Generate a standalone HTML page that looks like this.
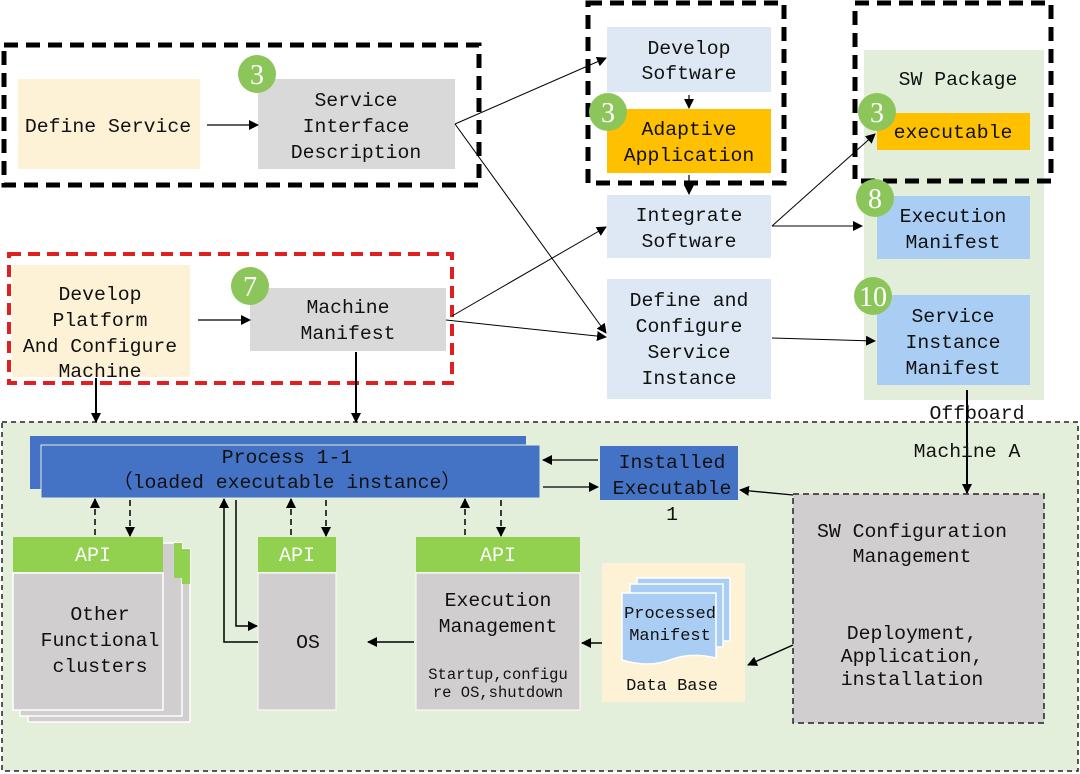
<!DOCTYPE html>
<html><head><meta charset="utf-8"><style>
html,body{margin:0;padding:0;background:#fff}
svg{display:block}
text{font-family:"Liberation Mono","Noto Sans CJK SC",monospace;font-size:19.8px;fill:#111;text-anchor:middle}
.n{font-family:"Liberation Serif",serif;font-size:28px;fill:#fff}
.w{fill:#fff;font-size:20px}
.s{font-size:15.5px}
</style></head><body>
<svg width="1080" height="774" viewBox="0 0 1080 774" xmlns="http://www.w3.org/2000/svg">
<defs>
<marker id="a" markerWidth="10" markerHeight="10" refX="9" refY="5" orient="auto" markerUnits="userSpaceOnUse"><path d="M0,0 L10,5 L0,10 z" fill="#000"/></marker>
</defs>

<rect x="2" y="422" width="1076" height="349" fill="#e3eedb" stroke="#222" stroke-width="1.5" stroke-dasharray="5,4"/>
<rect x="864" y="50" width="180" height="350" fill="#e2eeda"/>

<rect x="18" y="79" width="182" height="90" fill="#fdf1d6"/>
<text x="108" y="132">Define Service</text>
<rect x="258" y="79" width="197" height="90" fill="#d9d9d9"/>
<text x="356" y="106">Service</text><text x="356" y="132">Interface</text><text x="356" y="158">Description</text>
<line x1="207" y1="125" x2="258" y2="125" stroke="#000" stroke-width="1.2" marker-end="url(#a)"/>
<rect x="4" y="45" width="475" height="140" fill="none" stroke="#000" stroke-width="5" stroke-dasharray="14,8"/>
<circle cx="257" cy="74" r="19" fill="#8cc65a"/><text class="n" x="257" y="84">3</text>

<rect x="12" y="265" width="178" height="112" fill="#fdf1d6"/>
<text x="100" y="300">Develop</text><text x="100" y="326">Platform</text><text x="100" y="352">And Configure</text><text x="100" y="377">Machine</text>
<rect x="250" y="288" width="196" height="63" fill="#d9d9d9"/>
<text x="348" y="313">Machine</text><text x="348" y="339">Manifest</text>
<line x1="198" y1="320" x2="250" y2="320" stroke="#000" stroke-width="1.2" marker-end="url(#a)"/>
<rect x="9" y="254" width="443" height="129" fill="none" stroke="#e02020" stroke-width="4" stroke-dasharray="12,7"/>
<circle cx="250" cy="286" r="19" fill="#8cc65a"/><text class="n" x="250" y="296">7</text>

<rect x="607" y="27" width="164" height="65" fill="#dde8f4"/>
<text x="689" y="54">Develop</text><text x="689" y="79">Software</text>
<rect x="607" y="109" width="164" height="64" fill="#ffc000"/>
<text x="689" y="135">Adaptive</text><text x="689" y="161">Application</text>
<line x1="689" y1="95" x2="689" y2="108" stroke="#000" stroke-width="1.2" marker-end="url(#a)"/>
<rect x="588" y="3" width="196" height="180" fill="none" stroke="#000" stroke-width="5" stroke-dasharray="14,8"/>
<circle cx="608" cy="112" r="19" fill="#8cc65a"/><text class="n" x="608" y="122">3</text>
<line x1="689" y1="175" x2="689" y2="194" stroke="#000" stroke-width="1.2" marker-end="url(#a)"/>
<rect x="607" y="195" width="164" height="63" fill="#dde8f4"/>
<text x="689" y="221">Integrate</text><text x="689" y="247">Software</text>
<rect x="607" y="279" width="164" height="120" fill="#dde8f4"/>
<text x="689" y="306">Define and</text><text x="689" y="332">Configure</text><text x="689" y="358">Service</text><text x="689" y="384">Instance</text>

<text x="958" y="85">SW Package</text>
<rect x="877" y="113" width="153" height="37" fill="#ffc000"/>
<text x="953" y="138">executable</text>
<rect x="855" y="3" width="196" height="178" fill="none" stroke="#000" stroke-width="5" stroke-dasharray="14,8"/>
<circle cx="877" cy="112" r="19" fill="#8cc65a"/><text class="n" x="877" y="122">3</text>
<rect x="877" y="196" width="153" height="63" fill="#a9cdf3"/>
<text x="953" y="222">Execution</text><text x="953" y="248">Manifest</text>
<circle cx="875" cy="198" r="19" fill="#8cc65a"/><text class="n" x="875" y="208">8</text>
<rect x="877" y="295" width="153" height="90" fill="#a9cdf3"/>
<text x="953" y="322">Service</text><text x="953" y="348">Instance</text><text x="953" y="374">Manifest</text>
<circle cx="873" cy="296" r="19" fill="#8cc65a"/><text class="n" x="873" y="306">10</text>
<text x="977" y="419">Offboard</text>

<g stroke="#000" stroke-width="1" fill="none">
<line x1="455" y1="124" x2="606" y2="58" marker-end="url(#a)"/>
<line x1="455" y1="124" x2="606" y2="333" marker-end="url(#a)"/>
<line x1="452" y1="316" x2="606" y2="227" marker-end="url(#a)"/>
<line x1="446" y1="320" x2="606" y2="337" marker-end="url(#a)"/>
<line x1="772" y1="226" x2="862" y2="226" marker-end="url(#a)"/>
<line x1="772" y1="226" x2="875" y2="134" marker-end="url(#a)"/>
<line x1="772" y1="338" x2="875" y2="341" marker-end="url(#a)"/>
</g>
<g stroke="#000" stroke-width="2" fill="none">
<line x1="96" y1="378" x2="96" y2="422" marker-end="url(#a)"/>
<line x1="356" y1="352" x2="356" y2="422" marker-end="url(#a)"/>
<line x1="967" y1="390" x2="967" y2="493" marker-end="url(#a)"/>
</g>

<text x="967" y="457">Machine A</text>

<rect x="30" y="436" width="496" height="53" fill="#4472c4"/>
<rect x="41" y="445" width="499" height="53" fill="#4472c4" stroke="#e3eedb" stroke-width="1"/>
<text x="287" y="463">Process 1-1</text>
<text x="287" y="488">（loaded executable instance）</text>

<rect x="600" y="446" width="138" height="54" fill="#4472c4"/>
<text x="672" y="468">Installed</text><text x="672" y="494">Executable</text>
<text x="672" y="520">1</text>
<g stroke="#000" stroke-width="1.3" fill="none">
<line x1="598" y1="460" x2="543" y2="460" marker-end="url(#a)"/>
<line x1="543" y1="487" x2="598" y2="487" marker-end="url(#a)"/>
<line x1="793" y1="495" x2="740" y2="490" marker-end="url(#a)"/>
</g>

<rect x="793" y="494" width="251" height="229" fill="#d0cece" stroke="#222" stroke-width="1.5" stroke-dasharray="6,4"/>
<text x="912" y="537">SW Configuration</text><text x="912" y="562">Management</text>
<text x="912" y="639">Deployment,</text><text x="912" y="662">Application,</text><text x="912" y="685">installation</text>

<rect x="602" y="563" width="143" height="139" fill="#fdf1d6"/>
<rect x="637" y="578" width="93" height="63" fill="#a9cdf3" stroke="#fff" stroke-width="1.5"/>
<rect x="630" y="584" width="93" height="63" fill="#a9cdf3" stroke="#fff" stroke-width="1.5"/>
<path d="M622,593 H716 V658 Q690,652 670,660 Q648,668 622,660 Z" fill="#a9cdf3" stroke="#fff" stroke-width="1.5"/>
<text x="670" y="618" style="font-size:17px">Processed</text>
<text x="670" y="640" style="font-size:17px">Manifest</text>
<text x="672" y="690" style="font-size:17px">Data Base</text>
<g stroke="#000" stroke-width="1.5" fill="none">
<line x1="793" y1="645" x2="748" y2="665" marker-end="url(#a)"/>
<line x1="602" y1="643" x2="582" y2="643" marker-end="url(#a)"/>
<line x1="414" y1="642" x2="368" y2="642" marker-end="url(#a)"/>
</g>

<rect x="416" y="537" width="164" height="35" fill="#92d050"/>
<text class="w" x="498" y="561">API</text>
<rect x="416" y="573" width="164" height="137" fill="#d0cece" stroke="#fff"/>
<text x="498" y="606">Execution</text><text x="498" y="632">Management</text>
<text class="s" x="498" y="679">Startup,configu</text><text class="s" x="498" y="697">re OS,shutdown</text>

<rect x="258" y="537" width="78" height="35" fill="#92d050"/>
<text class="w" x="297" y="561">API</text>
<rect x="258" y="573" width="78" height="137" fill="#d0cece" stroke="#fff"/>
<text x="308" y="648">OS</text>

<rect x="28" y="549" width="162" height="173" fill="#d0cece" stroke="#fff" stroke-width="1.5"/>
<rect x="20" y="543" width="162" height="173" fill="#d0cece" stroke="#fff" stroke-width="1.5"/>
<rect x="182" y="549" width="8" height="35" fill="#92d050"/>
<rect x="174" y="543" width="8" height="35" fill="#92d050"/>
<rect x="13" y="537" width="150" height="35" fill="#92d050"/>
<text class="w" x="93" y="561">API</text>
<rect x="13" y="573" width="150" height="137" fill="#d0cece" stroke="#fff" stroke-width="1.5"/>
<text x="100" y="620">Other</text><text x="100" y="646">Functional</text><text x="100" y="672">clusters</text>

<g stroke="#000" stroke-width="1.5" fill="none" stroke-dasharray="6,4">
<line x1="95" y1="535" x2="95" y2="499" marker-end="url(#a)"/>
<line x1="130" y1="500" x2="130" y2="536" marker-end="url(#a)"/>
<line x1="291" y1="535" x2="291" y2="499" marker-end="url(#a)"/>
<line x1="326" y1="500" x2="326" y2="536" marker-end="url(#a)"/>
<line x1="465" y1="535" x2="465" y2="499" marker-end="url(#a)"/>
<line x1="501" y1="500" x2="501" y2="536" marker-end="url(#a)"/>
</g>
<g stroke="#000" stroke-width="1.5" fill="none">
<polyline points="258,642 224,642 224,499" marker-end="url(#a)"/>
<polyline points="236,500 236,626 257,626" marker-end="url(#a)"/>
</g>
</svg>
</body></html>
